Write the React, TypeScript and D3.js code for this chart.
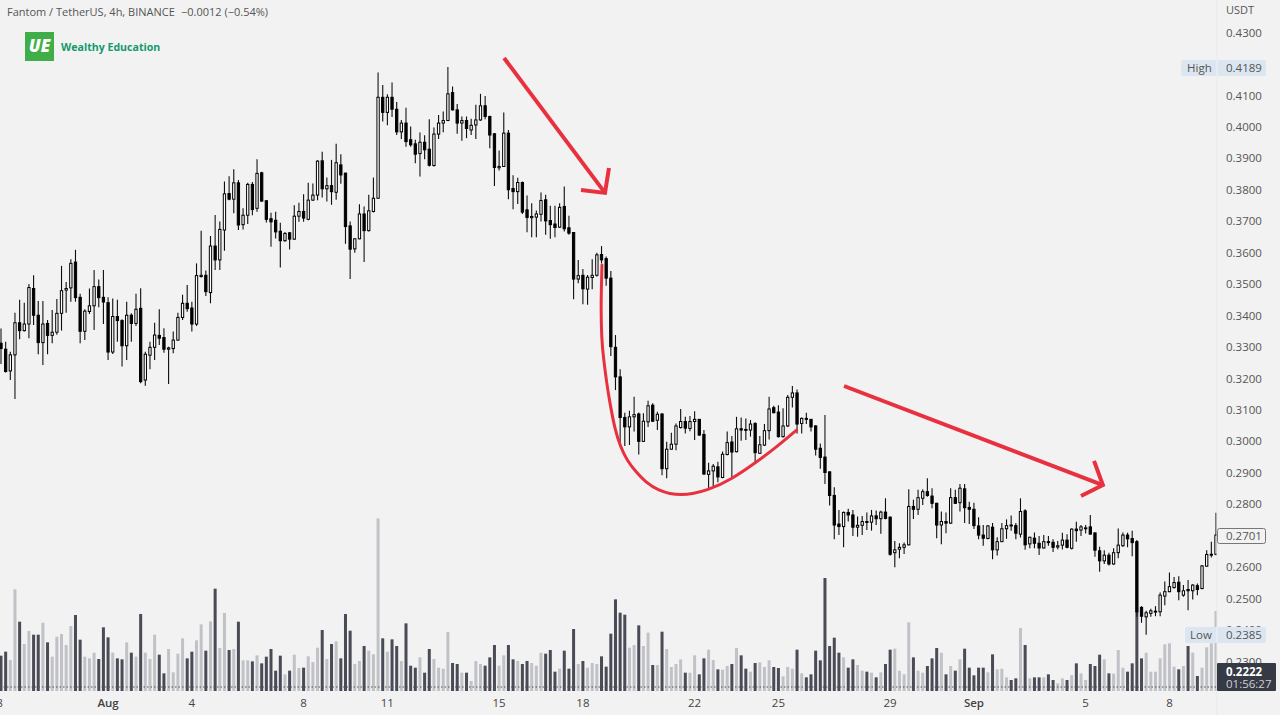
import React from "react";
import * as d3 from "d3";

const opens = [
.3312,.3293,.3224,.3275,.3377,.3352,.3373,.3486,.3401,.3314,
.3375,.3337,.3347,.3407,.3481,.3488,.3570,.3458,.3350,.3413,
.3431,.3492,.3458,.3441,.3284,.3397,.3384,.3304,.3401,.3375,
.3423,.3195,.3274,.3299,.3337,.3330,.3293,.3295,.3322,.3394,
.3439,.3424,.3373,.3524,.3528,.3473,.3621,.3577,.3672,.3788,
.3770,.3822,.3689,.3719,.3817,.3741,.3854,.3765,.3708,.3703,
.3668,.3638,.3663,.3643,.3716,.3731,.3706,.3767,.3783,.3892,
.3803,.3813,.3792,.3879,.3853,.3685,.3612,.3644,.3723,.3670,
.3731,.3773,.4094,.4046,.4094,.4056,.3984,.4012,.3959,.3946,
.3915,.3951,.3929,.3877,.3977,.4012,.4020,.4109,.4054,.4012,
.4020,.3990,.4006,.4022,.4067,.4033,.3978,.3870,.3874,.3980,
.3804,.3794,.3823,.3736,.3711,.3713,.3722,.3768,.3702,.3691,
.3681,.3747,.3679,.3664,.3516,.3528,.3484,.3521,.3528,.3594,
.3581,.3519,.3299,.3205,.3076,.3046,.3078,.3087,.3000,.3062,
.3115,.3067,.3087,.2913,.2975,.2991,.3044,.3063,.3041,.3063,
.3070,.3022,.2895,.2906,.2919,.2885,.2958,.2998,.2967,.3040,
.3038,.3036,.3057,.2962,.2988,.3034,.3107,.3093,.3015,.3049,
.3140,.3154,.3057,.3073,.3070,.3049,.2978,.2950,.2903,.2828,
.2737,.2729,.2774,.2766,.2727,.2733,.2745,.2743,.2763,.2754,
.2775,.2759,.2646,.2657,.2663,.2671,.2793,.2784,.2819,.2840,
.2826,.2803,.2734,.2745,.2740,.2821,.2805,.2849,.2790,.2784,
.2731,.2702,.2691,.2727,.2655,.2681,.2722,.2734,.2732,.2705,
.2779,.2674,.2692,.2676,.2661,.2681,.2679,.2664,.2670,.2686,
.2660,.2721,.2718,.2722,.2728,.2709,.2652,.2620,.2638,.2610,
.2646,.2668,.2702,.2691,.2681,.2472,.2442,.2453,.2457,.2458,
.2508,.2522,.2535,.2552,.2511,.2529,.2525,.2541,.2532,.2603,
.2638,.2641];
const highs = [
.3359,.3317,.3285,.3409,.3450,.3441,.3500,.3528,.3446,.3446,
.3386,.3418,.3453,.3558,.3507,.3579,.3609,.3469,.3420,.3486,
.3545,.3515,.3545,.3458,.3454,.3450,.3388,.3444,.3407,.3469,
.3487,.3285,.3317,.3377,.3420,.3360,.3301,.3349,.3409,.3466,
.3497,.3444,.3566,.3670,.3543,.3653,.3720,.3699,.3826,.3843,
.3865,.3831,.3741,.3822,.3825,.3897,.3857,.3767,.3727,.3730,
.3695,.3666,.3666,.3751,.3759,.3786,.3822,.3820,.3894,.3921,
.3839,.3895,.3946,.3913,.3853,.3699,.3646,.3754,.3747,.3784,
.3839,.4173,.4133,.4104,.4141,.4079,.4022,.4061,.4001,.3959,
.3982,.3973,.4024,.3998,.4038,.4049,.4190,.4128,.4073,.4033,
.4033,.4026,.4070,.4105,.4098,.4035,.3980,.3925,.4046,.3990,
.3846,.3838,.3826,.3782,.3757,.3734,.3791,.3784,.3749,.3749,
.3757,.3810,.3717,.3664,.3577,.3548,.3529,.3579,.3600,.3621,
.3588,.3542,.3338,.3229,.3091,.3097,.3142,.3092,.3089,.3129,
.3121,.3094,.3089,.2999,.3027,.3057,.3103,.3078,.3081,.3096,
.3070,.3036,.2932,.2928,.2935,.2968,.3031,.3017,.3078,.3076,
.3073,.3068,.3061,.3017,.3055,.3142,.3113,.3115,.3105,.3147,
.3176,.3165,.3076,.3091,.3070,.3051,.2993,.3084,.2904,.2854,
.2782,.2777,.2786,.2782,.2761,.2763,.2774,.2782,.2780,.2779,
.2819,.2761,.2683,.2676,.2678,.2848,.2814,.2846,.2848,.2883,
.2851,.2805,.2777,.2774,.2851,.2846,.2864,.2864,.2808,.2805,
.2759,.2734,.2734,.2740,.2695,.2740,.2752,.2764,.2740,.2819,
.2784,.2697,.2710,.2699,.2702,.2699,.2689,.2683,.2709,.2705,
.2723,.2744,.2734,.2734,.2766,.2709,.2665,.2654,.2646,.2660,
.2723,.2710,.2709,.2716,.2686,.2476,.2461,.2468,.2476,.2519,
.2554,.2583,.2569,.2571,.2543,.2559,.2546,.2548,.2607,.2654,
.2681,.2773];
const lows = [
.3246,.3219,.3195,.3135,.3325,.3349,.3328,.3370,.3277,.3243,
.3277,.3312,.3339,.3352,.3409,.3444,.3444,.3312,.3322,.3405,
.3354,.3426,.3373,.3259,.3278,.3317,.3238,.3259,.3317,.3367,
.3185,.3177,.3229,.3259,.3306,.3282,.3182,.3280,.3320,.3386,
.3412,.3349,.3367,.3521,.3462,.3439,.3545,.3545,.3606,.3767,
.3725,.3672,.3674,.3691,.3719,.3730,.3762,.3696,.3619,.3645,
.3553,.3635,.3610,.3640,.3698,.3698,.3703,.3765,.3767,.3775,
.3763,.3752,.3768,.3819,.3628,.3516,.3600,.3643,.3570,.3667,
.3728,.3771,.4017,.4005,.4031,.3974,.3961,.3937,.3937,.3884,
.3842,.3897,.3874,.3874,.3961,.3983,.4019,.4052,.3978,.3956,
.3964,.3974,.3961,.4019,.4024,.3932,.3812,.3861,.3872,.3770,
.3738,.3755,.3723,.3665,.3649,.3649,.3699,.3657,.3644,.3649,
.3678,.3667,.3657,.3452,.3503,.3436,.3434,.3484,.3524,.3566,
.3495,.3271,.3163,.2983,.2985,.2988,.3031,.2958,.2998,.3046,
.3062,.3036,.2892,.2883,.2974,.2972,.3041,.3025,.3032,.3004,
.3018,.2894,.2845,.2858,.2870,.2883,.2956,.2881,.2965,.3002,
.3004,.3015,.2932,.2960,.2985,.3006,.3089,.3012,.3012,.3046,
.3108,.3025,.3025,.3055,.3031,.2955,.2913,.2864,.2796,.2689,
.2702,.2663,.2745,.2699,.2697,.2702,.2718,.2716,.2734,.2706,
.2752,.2636,.2600,.2628,.2642,.2669,.2753,.2766,.2798,.2824,
.2787,.2692,.2673,.2708,.2737,.2801,.2777,.2740,.2737,.2721,
.2689,.2668,.2689,.2625,.2637,.2680,.2690,.2716,.2689,.2694,
.2655,.2660,.2660,.2639,.2659,.2668,.2648,.2657,.2656,.2660,
.2656,.2681,.2699,.2707,.2704,.2633,.2585,.2610,.2605,.2608,
.2628,.2665,.2663,.2635,.2442,.2423,.2385,.2442,.2444,.2444,
.2479,.2520,.2532,.2495,.2506,.2463,.2497,.2511,.2530,.2601,
.2631,.2638];
const closes = [
.3295,.3222,.3275,.3377,.3352,.3373,.3489,.3401,.3314,.3373,
.3337,.3347,.3407,.3479,.3486,.3566,.3457,.3350,.3414,.3431,
.3492,.3457,.3443,.3284,.3397,.3384,.3304,.3401,.3375,.3420,
.3190,.3277,.3299,.3338,.3328,.3293,.3297,.3322,.3394,.3439,
.3422,.3373,.3527,.3528,.3476,.3621,.3577,.3674,.3787,.3770,
.3822,.3688,.3719,.3817,.3737,.3852,.3764,.3706,.3698,.3666,
.3638,.3661,.3643,.3716,.3731,.3710,.3767,.3783,.3891,.3803,
.3813,.3794,.3886,.3847,.3683,.3611,.3644,.3723,.3670,.3733,
.3773,.4094,.4046,.4094,.4056,.3984,.4012,.3953,.3943,.3913,
.3951,.3927,.3878,.3977,.4012,.4020,.4105,.4054,.4012,.4020,
.3995,.4005,.4022,.4067,.4033,.3974,.3871,.3874,.3980,.3800,
.3794,.3823,.3729,.3712,.3715,.3723,.3766,.3701,.3689,.3680,
.3744,.3676,.3662,.3516,.3527,.3485,.3522,.3528,.3593,.3577,
.3519,.3301,.3205,.3076,.3046,.3078,.3085,.3000,.3064,.3113,
.3064,.3086,.2913,.2975,.2991,.3049,.3063,.3042,.3063,.3070,
.3020,.2896,.2906,.2921,.2887,.2959,.2996,.2966,.3040,.3036,
.3035,.3055,.2964,.2989,.3034,.3103,.3091,.3015,.3049,.3140,
.3154,.3055,.3073,.3070,.3046,.2975,.2949,.2901,.2828,.2734,
.2729,.2774,.2766,.2727,.2733,.2745,.2742,.2763,.2754,.2775,
.2755,.2641,.2655,.2663,.2671,.2793,.2784,.2821,.2840,.2828,
.2803,.2734,.2745,.2740,.2821,.2803,.2851,.2789,.2784,.2732,
.2702,.2692,.2731,.2655,.2681,.2722,.2732,.2731,.2708,.2777,
.2671,.2695,.2676,.2661,.2681,.2678,.2663,.2668,.2686,.2663,
.2721,.2716,.2728,.2725,.2705,.2654,.2620,.2638,.2610,.2646,
.2670,.2702,.2690,.2678,.2458,.2444,.2455,.2461,.2460,.2511,
.2522,.2538,.2551,.2522,.2525,.2525,.2543,.2529,.2604,.2640,
.2641,.2702];
const volumes = [
106,118,93,305,208,141,180,169,169,205,
146,103,163,171,138,195,228,154,103,98,
115,96,191,161,115,98,95,146,115,103,
231,115,96,169,109,53,126,56,112,158,
98,118,152,200,121,209,307,129,234,123,
126,208,92,92,89,107,83,103,126,61,
106,50,61,109,69,70,104,87,130,183,
96,141,149,98,231,181,81,90,135,121,
110,518,158,118,155,135,90,203,76,70,
101,55,126,96,70,67,177,84,81,55,
55,30,90,81,76,101,138,76,107,138,
95,90,81,90,84,76,115,112,123,58,
67,121,67,186,81,90,70,84,81,104,
73,172,275,235,229,130,138,197,135,175,
78,78,178,126,72,81,95,55,55,107,
50,98,124,93,65,64,75,81,129,107,
67,58,84,86,72,92,72,69,44,72,
67,124,53,41,50,121,92,339,135,160,
115,101,70,95,78,61,58,55,41,56,
81,124,127,61,50,206,101,61,55,75,
98,129,115,50,75,61,95,127,70,47,
70,70,56,110,65,67,41,33,38,189,
138,38,41,41,41,50,33,23,38,33,
48,83,53,33,81,75,109,95,53,52,
123,70,58,83,238,98,115,58,58,98,
140,143,73,65,75,135,115,45,70,131,
143,240];

const priceTicks = [.43,.42,.41,.40,.39,.38,.37,.36,.35,.34,.33,.32,.31,.30,.29,.28,.27,.26,.25,.24,.23];
const timeTicks: [number, string, boolean][] = [
  [-1,"28",false],[23,"Aug",true],[41,"4",false],[65,"8",false],[83,"11",false],[107,"15",false],
  [125,"18",false],[149,"22",false],[167,"25",false],[191,"29",false],[209,"Sep",true],[233,"5",false],[251,"8",false],
];

const arrowOne: [number, number][] = [[108.06,.4219],[129.75,.3790]];
const arrowOneHead: [number, number][] = [[124.6,.3799],[129.75,.3790],[130.6,.3869]];
const arrowTwo: [number, number][] = [[181.1,.3176],[236.7,.2861]];
const arrowTwoHead: [number, number][] = [[232,.2826],[236.7,.2861],[234.8,.2938]];
const saucer: [number, number][] = [[129.1,.3561],[128.85,.3427],[129.04,.3322],[129.4,.3268],[130.1,.3186],[130.8,.3122],[131.9,.3036],[133.1,.2982],[134.4,.2941],[136.6,.2899],[138.4,.2872],[140.9,.2845],[145.9,.2824],[152.1,.2845],[157,.2880],[162,.2931],[166.6,.2982],[170.9,.3036]];

const FONT = "'Open Sans', sans-serif";
const RED = "#e8303f";
const AXIS_X = 1217;

export default function App() {
  const x = d3.scaleLinear().domain([0, 261]).range([1, 1216]);
  const y = d3.scaleLinear().domain([0.23, 0.43]).range([661.5, 32.5]);
  const v = d3.scaleLinear().domain([0, 520]).range([691, 517.7]);
  const straight = d3.line<[number, number]>().x(d => x(d[0])).y(d => y(d[1]));
  const smooth = d3.line<[number, number]>().x(d => x(d[0])).y(d => y(d[1])).curve(d3.curveBasis);
  return (
    <svg width={1280} height={715} style={{ position: "fixed", left: 0, top: 0, background: "#f2f2f2" }} fontFamily={FONT}>
      <defs>
        <clipPath id="plot"><rect x={0} y={0} width={AXIS_X} height={715} /></clipPath>
        <filter id="soft" x="0" y="0" width="100%" height="100%"><feGaussianBlur stdDeviation="0.3" /></filter>
      </defs>
      <rect width={1280} height={715} fill="#f2f2f2" />
      <g clipPath="url(#plot)">
        <g filter="url(#soft)">
          {volumes.map((d, i) => (
            <rect key={i} x={x(i) - 1.5} width={3} y={v(d)} height={691 - v(d)} fill={closes[i] < opens[i] ? "#4a4c56" : "#c1c2c7"} />
          ))}
        </g>
        <line x1={0} x2={AXIS_X} y1={687} y2={687} stroke="#555" strokeWidth={1} strokeDasharray="1.5 2" />
        <g filter="url(#soft)">
          {opens.map((o, i) => {
            const c = closes[i];
            const top = y(Math.max(o, c)), bot = y(Math.min(o, c));
            return (
              <g key={i}>
                <line x1={x(i)} x2={x(i)} y1={y(highs[i])} y2={y(lows[i])} stroke="#111" strokeWidth={1.1} />
                <rect x={x(i) - 1.15} width={2.3} y={top} height={Math.max(bot - top, 0.6)} fill={c < o ? "#000" : "#fff"} stroke="#000" strokeWidth={1} />
              </g>
            );
          })}
        </g>
      </g>
      <text x={7} y={16} fontSize={11} fill="#555">Fantom / TetherUS, 4h, BINANCE</text>
      <text x={181} y={16} fontSize={11} fill="#555">−0.0012 (−0.54%)</text>
      <rect x={25} y={32} width={29} height={29} fill="#3fae49" />
      <text x={39.5} y={52} fontSize={17} fontWeight={800} fontStyle="italic" fill="#fff" textAnchor="middle">UE</text>
      <text x={61} y={51} fontSize={10.6} fontWeight={700} fill="#149a6c">Wealthy Education</text>

      <path d={straight(arrowOne)!} fill="none" stroke={RED} strokeWidth={4} />
      <path d={straight(arrowOneHead)!} fill="none" stroke={RED} strokeWidth={4} />
      <path d={straight(arrowTwo)!} fill="none" stroke={RED} strokeWidth={4} />
      <path d={straight(arrowTwoHead)!} fill="none" stroke={RED} strokeWidth={4} />
      <path d={smooth(saucer)!} fill="none" stroke={RED} strokeWidth={3} strokeLinecap="round" />

      <line x1={AXIS_X} x2={AXIS_X} y1={0} y2={715} stroke="#eaeaea" />
      <text x={1226} y={14} fontSize={11} fill="#555">USDT</text>
      {priceTicks.map(t => (
        <text key={t} x={1226} y={y(t)} dy="0.36em" fontSize={11.5} fill="#555">{t.toFixed(4)}</text>
      ))}

      <rect x={1181} y={60} width={85} height={16} rx={2} fill="#dce6f1" />
      <line x1={1217} x2={1217} y1={60} y2={76} stroke="#f2f2f2" />
      <text x={1187} y={y(0.4189)} dy="0.36em" fontSize={11.5} fill="#555">High</text>
      <text x={1226} y={y(0.4189)} dy="0.36em" fontSize={11.5} fill="#555">0.4189</text>

      <rect x={1185} y={627} width={81} height={16} rx={2} fill="#dce6f1" />
      <line x1={1217} x2={1217} y1={627} y2={643} stroke="#f2f2f2" />
      <text x={1190} y={635} dy="0.36em" fontSize={11.5} fill="#555">Low</text>
      <text x={1226} y={635} dy="0.36em" fontSize={11.5} fill="#555">0.2385</text>

      <rect x={1217.5} y={528.5} width={48} height={15} rx={2} fill="#f2f2f2" stroke="#777" />
      <text x={1226} y={536} dy="0.36em" fontSize={11.5} fill="#555">0.2701</text>

      <rect x={1217} y={663} width={59} height={28} rx={1} fill="#363a45" />
      <text x={1226} y={671.5} dy="0.36em" fontSize={11.5} fontWeight={700} fill="#fff">0.2222</text>
      <text x={1226} y={684} dy="0.36em" fontSize={11.5} fill="#cfd1d6">01:56:27</text>

      {timeTicks.map(([i, label, bold]) => (
        <text key={label + i} x={x(i)} y={707} textAnchor="middle" fontSize={11.5} fontWeight={bold ? 600 : 400} fill="#444">{label}</text>
      ))}
    </svg>
  );
}
